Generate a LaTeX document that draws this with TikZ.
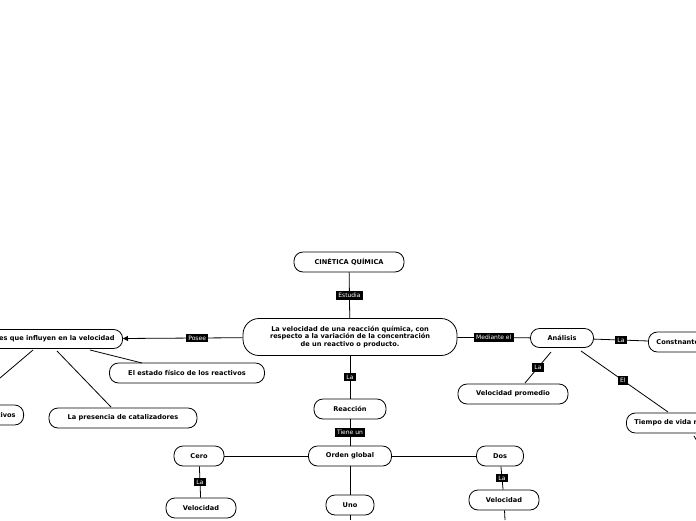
\documentclass[tikz,border=0pt]{standalone}
\usepackage{fontspec}
\setmainfont{DejaVu Sans}
\usetikzlibrary{arrows.meta}
\begin{document}
\begin{tikzpicture}[x=1pt,y=-1pt,
    concept/.style={draw, thick, fill=white, rounded corners=9pt, minimum height=20pt,
        inner xsep=8pt, font=\fontsize{6.6}{7.5}\selectfont\bfseries, align=center},
    lbl/.style={fill=black, text=white, inner xsep=2.5pt, inner ysep=2pt, font=\fontsize{6}{7}\selectfont},
    link/.style={thick}]

    \useasboundingbox (0,0) rectangle (696,520);
    \clip (0,0) rectangle (696,520);

    % central chain
    \node[concept, minimum width=110pt] (cq) at (349,262) {CINÉTICA QUÍMICA};
    \node[concept, minimum width=214pt, minimum height=37pt, rounded corners=16pt] (vel) at (350,337)
        {La velocidad de una reacción química, con\\respecto a la variación de la concentración\\de un reactivo o producto.};
    \node[concept, minimum width=72pt] (reac) at (350,409) {Reacción};
    \node[concept, minimum width=83pt] (orden) at (350,456) {Orden global};

    % left branch
    \node[concept, anchor=east, minimum height=19pt] (fac) at (123,339) {Factores que influyen en la velocidad};
    \node[concept, minimum width=155pt] (estado) at (187,373) {El estado físico de los reactivos};
    \node[concept, anchor=east] (conc) at (24,415) {La concentración de los reactivos};
    \node[concept, minimum width=148pt] (cat) at (123,418) {La presencia de catalizadores};

    % orders
    \node[concept, minimum width=50pt] (cero) at (199,456) {Cero};
    \node[concept, minimum width=70pt] (velc) at (201,508) {Velocidad};
    \node[concept, minimum width=48pt] (uno) at (350,505) {Uno};
    \node[concept, minimum width=47pt] (dos) at (500,456) {Dos};
    \node[concept, minimum width=70pt] (veld) at (504,500) {Velocidad};

    % right branch
    \node[concept, minimum width=63pt, minimum height=19pt] (anal) at (562,338) {Análisis};
    \node[concept, anchor=west] (cons) at (648,342) {Constnante};
    \node[concept, minimum width=110pt] (prom) at (513,394) {Velocidad promedio};
    \node[concept, anchor=west] (vida) at (626,423) {Tiempo de vida media};

    \coordinate (concEnd) at (0,378);
    \coordinate (unoEnd) at (350,520);
    \coordinate (veldEnd) at (505,520);
    \coordinate (vidaEnd) at (700,446);

    % connectors
    \draw[link] (cq) -- node[lbl] {Estudia} (vel);
    \draw[link] (vel) -- node[lbl] {La} (reac);
    \draw[link] (reac) -- node[lbl] {Tiene un} (orden);
    \draw[link, -{Triangle[length=5pt,width=5pt]}] (vel) -- node[lbl, pos=0.38] {Posee} (fac);
    \draw[link] (90,350) -- (142,363);
    \draw[link] (33,350) -- (concEnd);
    \draw[link] (57,351) -- (111,407);
    \draw[link] (orden) -- (cero);
    \draw[link] (orden) -- (dos);
    \draw[link] (orden) -- (uno);
    \draw[link] (cero) -- node[lbl] {La} (velc);
    \draw[link] (dos) -- node[lbl] {La} (veld);
    \draw[link] (uno) -- (unoEnd);
    \draw[link] (veld) -- (veldEnd);
    \draw[link] (vel) -- node[lbl] {Mediante el} (anal);
    \draw[link] (anal) -- node[lbl] {La} (cons);
    \draw[link] (551,352) -- node[lbl] {La} (525,383);
    \draw[link] (581,351) -- node[lbl, pos=0.48] {El} (668,412);
    \draw[link] (694,436) -- (vidaEnd);
\end{tikzpicture}
\end{document}
